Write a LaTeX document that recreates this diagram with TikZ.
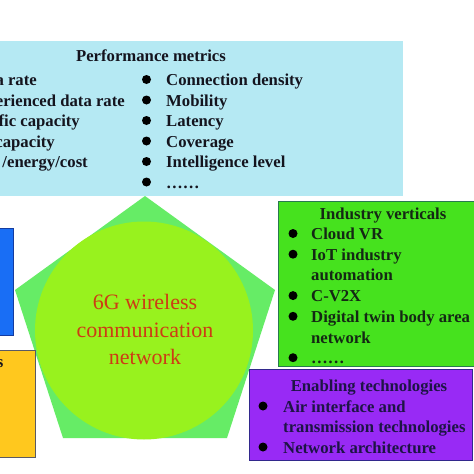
\documentclass[tikz,border=0pt]{standalone}
\usepackage{fontspec}
\setmainfont{Liberation Serif}
\definecolor{pmblue}{RGB}{181,233,243}
\definecolor{pentg}{RGB}{102,236,102}
\definecolor{circg}{RGB}{152,242,30}
\definecolor{indg}{RGB}{70,226,30}
\definecolor{indbd}{RGB}{40,120,80}
\definecolor{enp}{RGB}{152,42,245}
\definecolor{enbd}{RGB}{50,40,140}
\definecolor{lblue}{RGB}{25,110,245}
\definecolor{lbluebd}{RGB}{20,60,160}
\definecolor{lyel}{RGB}{255,200,30}
\definecolor{lyelbd}{RGB}{90,90,100}
\definecolor{netred}{RGB}{205,60,20}
\definecolor{txtdark}{RGB}{20,20,30}
\definecolor{txtgreen}{RGB}{20,40,20}
\definecolor{txtpurp}{RGB}{30,20,70}
\begin{document}
\begin{tikzpicture}[x=1pt,y=-1pt,
  txt/.style={inner sep=0pt, anchor=base west, font=\fontsize{16.7}{20}\selectfont\bfseries},
  txte/.style={inner sep=0pt, anchor=base east, font=\fontsize{16.7}{20}\selectfont\bfseries},
  ttl/.style={inner sep=0pt, anchor=base, font=\fontsize{16.7}{20}\selectfont\bfseries},
  bul/.style={circle, fill=black, inner sep=0pt, minimum size=9pt},
  cen/.style={inner sep=0pt, anchor=base, text=netred, font=\fontsize{22}{26}\selectfont}]
\useasboundingbox (0,0) rectangle (474,474);
\clip (0,0) rectangle (474,474);
\fill[white] (0,0) rectangle (474,474);

% pentagon and circle
\fill[pentg] (145,196) -- (275,290) -- (227,438) -- (63,438) -- (15,290) -- cycle;
\fill[circg] (144,330.5) circle (109);
\node[cen] (c1) at (145,309) {6G wireless};
\node[cen] (c2) at (145,337) {communication};
\node[cen] (c3) at (145,364) {network};

% performance metrics box
\fill[pmblue] (-2,41) rectangle (403,196);
\begin{scope}[text=txtdark]
\node[ttl] (pmt) at (151,61) {Performance metrics};
\node[txte] (pl1) at (37,85.5) {a rate};
\node[txte] (pl2) at (125,106) {erienced data rate};
\node[txte] (pl3) at (80,126.5) {fic capacity};
\node[txte] (pl4) at (55,147) {capacity};
\node[txte] (pl5) at (88,167.5) {/energy/cost};
\foreach \t [count=\i from 0] in {Connection density,Mobility,Latency,Coverage,Intelligence level}{
  \node[bul] (pb\i) at (146.5,79.5+20.5*\i) {};
  \node[txt] (pr\i) at (166,85.5+20.5*\i) {\t};
}
\node[bul] (pb5) at (146.5,182) {};
\node[txt] (pr5) at (166,188) {\ldots\ldots};
\end{scope}

% industry verticals box
\filldraw[fill=indg, draw=indbd, line width=0.8pt] (278,201) rectangle (480,366);
\begin{scope}[text=txtgreen]
\node[ttl] (ivt) at (383,219.5) {Industry verticals};
\node[bul] (ib1) at (293,233.5) {};
\node[txt] (it1) at (311,239.5) {Cloud VR};
\node[bul] (ib2) at (293,254.2) {};
\node[txt] (it2) at (311,260.2) {IoT industry};
\node[txt] (it3) at (311,280.9) {automation};
\node[bul] (ib3) at (293,295.6) {};
\node[txt] (it4) at (311,301.6) {C-V2X};
\node[bul] (ib4) at (293,316.3) {};
\node[txt] (it5) at (311,322.3) {Digital twin body area};
\node[txt] (it6) at (311,343) {network};
\node[bul] (ib5) at (293,357.7) {};
\node[txt] (it7) at (311,363.7) {\ldots\ldots};
\end{scope}

% enabling technologies box
\filldraw[fill=enp, draw=enbd, line width=0.8pt] (249,369) rectangle (472,460);
\begin{scope}[text=txtpurp]
\node[ttl] (ett) at (369,391.5) {Enabling technologies};
\node[bul] (eb1) at (263,406) {};
\node[txt] (et1) at (283,412) {Air interface and};
\node[txt] (et2) at (283,432.5) {transmission technologies};
\node[bul] (eb2) at (263,447) {};
\node[txt] (et3) at (283,453) {Network architecture};
\end{scope}

% left partial boxes
\filldraw[fill=lblue, draw=lbluebd, line width=0.8pt] (-5,228) rectangle (13,335);
\filldraw[fill=lyel, draw=lyelbd, line width=0.8pt] (-5,350) rectangle (35,457);
\node[txte, text=txtdark] (ys) at (3.5,367) {s};
\end{tikzpicture}
\end{document}
